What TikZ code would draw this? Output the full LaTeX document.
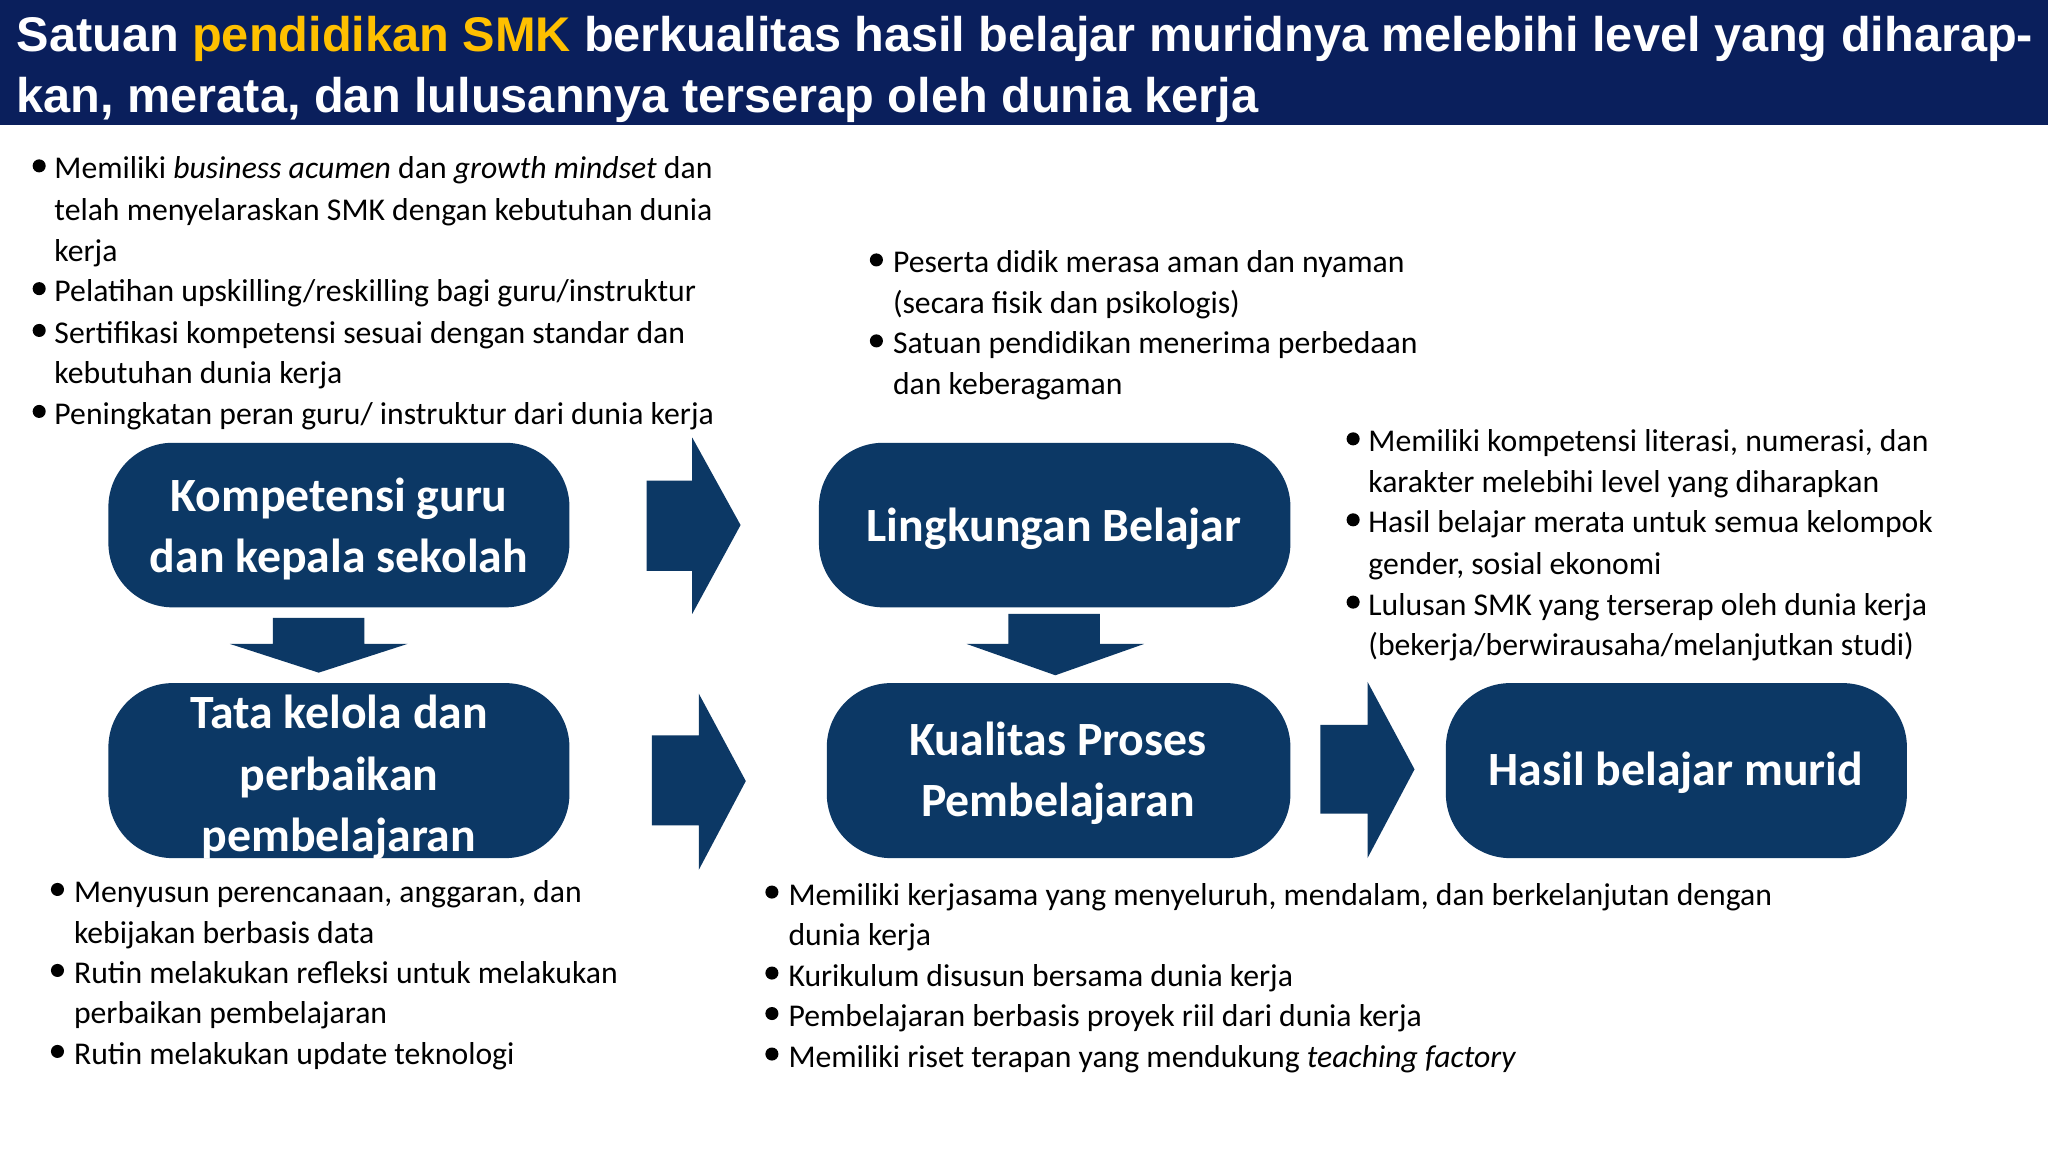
\documentclass[tikz,border=0pt]{standalone}
\usepackage{fontspec}
\setmainfont{Carlito}
\newfontfamily\titlefont{Liberation Sans}
\definecolor{navy}{HTML}{0A1F5C}
\definecolor{boxblue}{HTML}{0C3865}
\definecolor{ttlyellow}{HTML}{FFC000}
\tikzset{
  bx/.style={fill=boxblue, rounded corners=14pt},
  bxtxt/.style={text=white, font=\fontsize{10.4}{13.2}\selectfont\bfseries, align=center},
  ln/.style={anchor=base west, inner sep=0, font=\fontsize{6.9}{8.8}\selectfont, text=black},
  blt/.style={fill=black},
  arr/.style={fill=boxblue}
}
\newcommand{\bl}[3]{\fill[blt] (#1,#2-2) circle (5); }
\begin{document}
\begin{tikzpicture}[x=0.01cm,y=-0.01cm]
\useasboundingbox (0,0) rectangle (1568,882);
\fill[white] (0,0) rectangle (1568,882);
% title
\fill[navy] (0,0) rectangle (1568,96);
\node[anchor=north west, inner sep=0, text=white, text width=15.43cm, align=justify, font=\titlefont\fontsize{10.6}{13.1}\selectfont\bfseries] (title) at (12,12)
 {Satuan \textcolor{ttlyellow}{pendidikan SMK} berkualitas hasil belajar muridnya melebihi level yang diharapkan, merata, dan lulusannya terserap oleh dunia kerja};
% boxes
\fill[bx] (83,339) rectangle (436,465);
\node[bxtxt] (k) at (259.5,405) {Kompetensi guru\\dan kepala sekolah};
\fill[bx] (627,339) rectangle (988,465);
\node[bxtxt] (l) at (807,405) {Lingkungan Belajar};
\fill[bx] (83,523) rectangle (436,657);
\node[bxtxt, anchor=base] (t1) at (259.5,558) {Tata kelola dan};
\node[bxtxt, anchor=base] (t2) at (259.5,605) {perbaikan};
\node[bxtxt, anchor=base] (t3) at (259.5,652) {pembelajaran};
\fill[bx] (633,523) rectangle (988,657);
\node[bxtxt] (q) at (810,592) {Kualitas Proses\\Pembelajaran};
\fill[bx] (1107,523) rectangle (1460,657);
\node[bxtxt] (h) at (1283,592) {Hasil belajar murid};
% block arrows
\fill[arr] (495,368) -- (530,368) -- (530,335) -- (567,402) -- (530,470) -- (530,437) -- (495,437) -- cycle;
\fill[arr] (499,563) -- (535,563) -- (535,531) -- (571,598) -- (535,666) -- (535,632) -- (499,632) -- cycle;
\fill[arr] (1011,555) -- (1047,555) -- (1047,522) -- (1083,589) -- (1047,657) -- (1047,623) -- (1011,623) -- cycle;
\fill[arr] (209,473) -- (279,473) -- (279,493) -- (312,493) -- (244,515) -- (176,493) -- (209,493) -- cycle;
\fill[arr] (772,470) -- (842,470) -- (842,493) -- (876,493) -- (808,517) -- (740,493) -- (772,493) -- cycle;
% top-left text
\bl{30}{129}{}\node[ln] (a1) at (41,137) {Memiliki \emph{business acumen} dan \emph{growth mindset} dan};
\node[ln] (a2) at (41,169) {telah menyelaraskan SMK dengan kebutuhan dunia};
\node[ln] (a3) at (41,200) {kerja};
\bl{30}{223}{}\node[ln] (a4) at (41,231) {Pelatihan upskilling/reskilling bagi guru/instruktur};
\bl{30}{255}{}\node[ln] (a5) at (41,263) {Sertifikasi kompetensi sesuai dengan standar dan};
\node[ln] (a6) at (41,294) {kebutuhan dunia kerja};
\bl{30}{317}{}\node[ln] (a7) at (41,325) {Peningkatan peran guru/ instruktur dari dunia kerja};
% top-middle
\bl{671}{201}{}\node[ln] (b1) at (683,209) {Peserta didik merasa aman dan nyaman};
\node[ln] (b2) at (683,240) {(secara fisik dan psikologis)};
\bl{671}{263}{}\node[ln] (b3) at (683,271) {Satuan pendidikan menerima perbedaan};
\node[ln] (b4) at (683,302) {dan keberagaman};
% right
\bl{1036}{338}{}\node[ln] (c1) at (1047,346) {Memiliki kompetensi literasi, numerasi, dan};
\node[ln] (c2) at (1047,377) {karakter melebihi level yang diharapkan};
\bl{1036}{400}{}\node[ln] (c3) at (1047,408) {Hasil belajar merata untuk semua kelompok};
\node[ln] (c4) at (1047,440) {gender, sosial ekonomi};
\bl{1036}{463}{}\node[ln] (c5) at (1047,471) {Lulusan SMK yang terserap oleh dunia kerja};
\node[ln] (c6) at (1047,502) {(bekerja/berwirausaha/melanjutkan studi)};
% bottom-left
\bl{44}{683}{}\node[ln] (d1) at (56,691) {Menyusun perencanaan, anggaran, dan};
\node[ln] (d2) at (56,722) {kebijakan berbasis data};
\bl{44}{745}{}\node[ln] (d3) at (56,753) {Rutin melakukan refleksi untuk melakukan};
\node[ln] (d4) at (56,784) {perbaikan pembelajaran};
\bl{44}{807}{}\node[ln] (d5) at (56,815) {Rutin melakukan update teknologi};
% bottom-middle
\bl{591}{685}{}\node[ln] (e1) at (603,693) {Memiliki kerjasama yang menyeluruh, mendalam, dan berkelanjutan dengan};
\node[ln] (e2) at (603,724) {dunia kerja};
\bl{591}{747}{}\node[ln] (e3) at (603,755) {Kurikulum disusun bersama dunia kerja};
\bl{591}{778}{}\node[ln] (e4) at (603,786) {Pembelajaran berbasis proyek riil dari dunia kerja};
\bl{591}{809}{}\node[ln] (e5) at (603,817) {Memiliki riset terapan yang mendukung \emph{teaching factory}};
\end{tikzpicture}
\end{document}
